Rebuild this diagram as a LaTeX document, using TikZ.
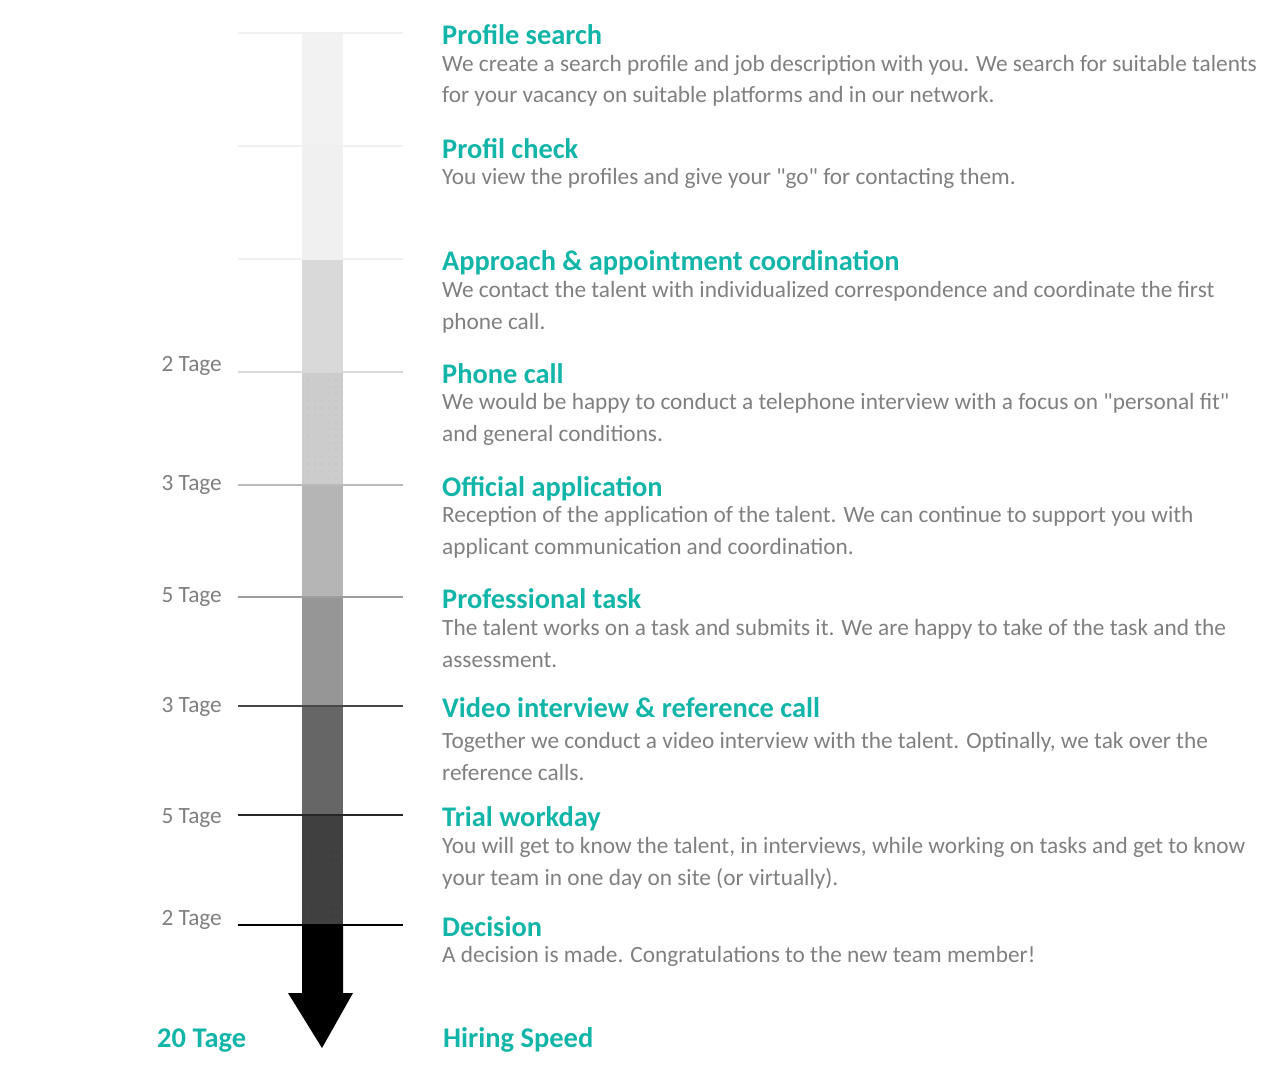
\documentclass[tikz,border=0pt]{standalone}
\usepackage{fontspec}
\setmainfont{Carlito}
\usepackage{tikz}
\usetikzlibrary{patterns.meta}
\usepackage{xcolor}
\definecolor{teal}{RGB}{18,181,168}
\definecolor{txtgray}{RGB}{128,128,128}
\tikzstyle{phasetitle}=[anchor=base west, inner sep=0pt, text=teal, font=\bfseries\fontsize{28.4}{32}\selectfont]
\tikzstyle{phasetext}=[anchor=base west, inner sep=0pt, text=txtgray, font=\fontsize{23.3}{32}\selectfont]
\tikzstyle{days}=[anchor=base east, inner sep=0pt, text=txtgray, font=\fontsize{23.3}{28}\selectfont]
\tikzstyle{total}=[anchor=base west, inner sep=0pt, text=teal, font=\bfseries\fontsize{28.5}{32}\selectfont]
\tikzstyle{speckle}=[pattern={Dots[distance=7pt, radius=.4pt]}]
\newcommand{\phase}[5]{
 \node[phasetitle] (#1) at (442,#2) {#4};
 \node[phasetext] (#1text) at (442,#3) {\begin{tabular}[t]{@{}l@{}}#5\end{tabular}};
}
\newcommand{\daymark}[5]{
 \draw[line width=1.4pt, #4] (238,#2) -- (403,#2);
 \node[days] (#1) at (222,#3) {#5};
}
\newcommand{\segment}[3]{
 \fill[#1] (302,#2) rectangle (343,#3);
}
\newcommand{\qq}{\textquotedbl}

\begin{document}
\begin{tikzpicture}[x=1pt, y=-1pt]
 \useasboundingbox (0,0) rectangle (1280,1073);
%
 \segment{black!5}{33}{146}
 \segment{black!6}{146}{259}
 \segment{black!15}{259}{372}
 \segment{black!20}{372}{485}
 \fill[speckle, pattern color=black!40] (302,372) rectangle (343,485);
 \segment{black!29}{485}{597}
 \segment{black!41}{597}{706}
 \segment{black!60}{706}{815}
 \segment{black!75}{815}{925}
 \fill[speckle, pattern color=black!58] (302,815) rectangle (343,925);
 \fill[black] (302,925) -- (302,993) -- (288,993) -- (322,1048) -- (353,993)
  -- (343,993) -- (343,925) -- cycle;
%
 \draw[line width=1.4pt, black!6] (238,33) -- (403,33);
 \draw[line width=1.4pt, black!6] (238,146) -- (403,146);
 \draw[line width=1.4pt, black!6] (238,259) -- (403,259);
 \daymark{d1}{372}{371}{black!15}{2 Tage}
 \daymark{d2}{485}{490}{black!27}{3 Tage}
 \daymark{d3}{597}{602}{black!38}{5 Tage}
 \daymark{d4}{706}{712}{black!72}{3 Tage}
 \daymark{d5}{815}{823}{black!85}{5 Tage}
 \daymark{d6}{925}{925}{black}{2 Tage}
%
 \phase{search}{45}{71}{Profile search}{We create a search profile and job description with you. We search for suitable talents\\for your vacancy on suitable platforms and in our network.}
 \phase{check}{158}{184}{Profil check}{You view the profiles and give your \qq go\qq{} for contacting them.}
 \phase{approach}{270}{297}{Approach \& appointment coordination}{We contact the talent with individualized correspondence and coordinate the first\\phone call.}
 \phase{phone}{383}{409}{Phone call}{We would be happy to conduct a telephone interview with a focus on \qq personal fit\qq\\and general conditions.}
 \phase{application}{496}{522}{Official application}{Reception of the application of the talent. We can continue to support you with\\applicant communication and coordination.}
 \phase{task}{608}{635}{Professional task}{The talent works on a task and submits it. We are happy to take of the task and the\\assessment.}
 \phase{video}{717}{748}{Video interview \& reference call}{Together we conduct a video interview with the talent. Optinally, we tak over the\\reference calls.}
 \phase{trial}{826}{853}{Trial workday}{You will get to know the talent, in interviews, while working on tasks and get to know\\your team in one day on site (or virtually).}
 \phase{decision}{936}{962}{Decision}{A decision is made. Congratulations to the new team member!}
%
 \node[total] (days) at (157,1047) {20 Tage};
 \node[total] (speed) at (443,1047) {Hiring Speed};
\end{tikzpicture}
\end{document}
